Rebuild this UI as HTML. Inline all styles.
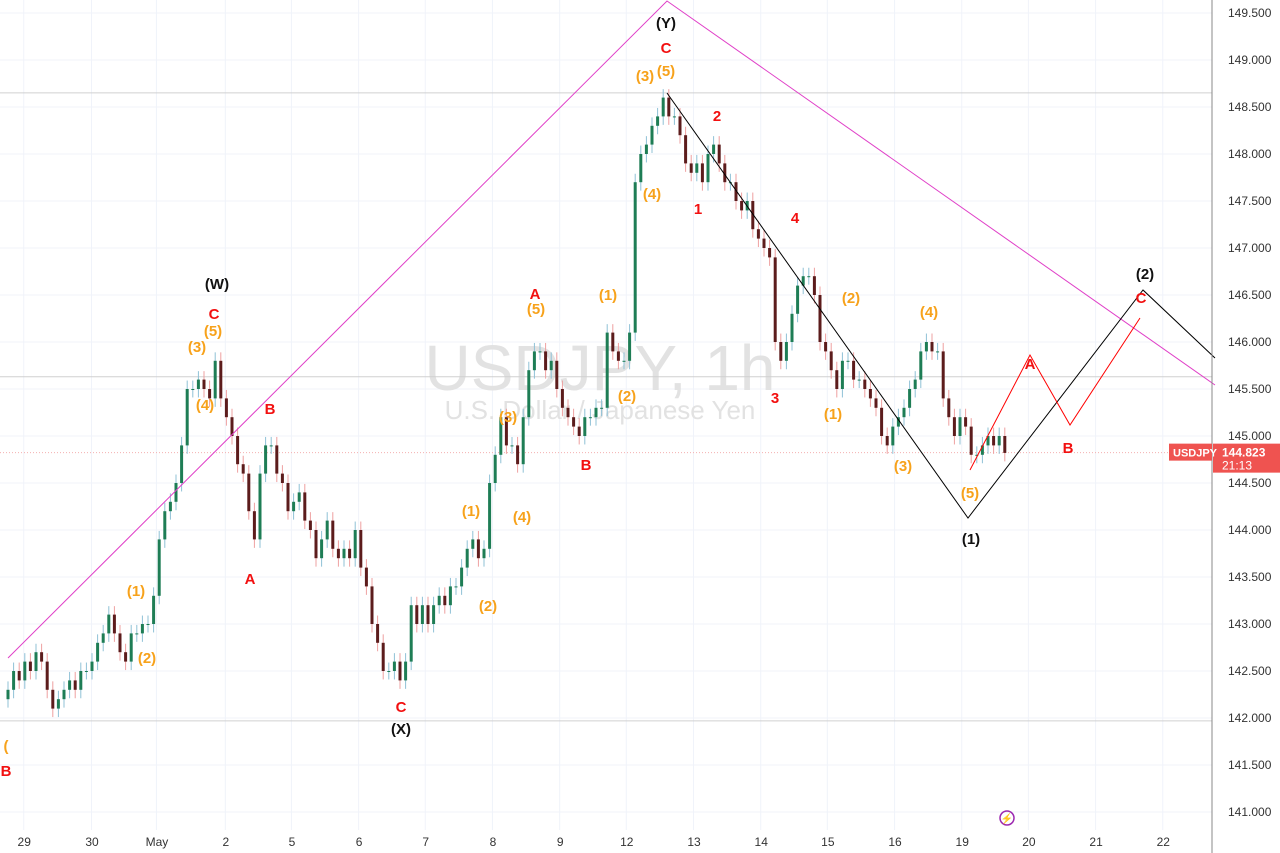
<!DOCTYPE html>
<html><head><meta charset="utf-8"><style>
body{margin:0;background:#fff;font-family:"Liberation Sans",sans-serif}
svg{display:block}
</style></head><body>
<svg id="chart" width="1280" height="853" xmlns="http://www.w3.org/2000/svg" font-family="Liberation Sans, sans-serif">
<rect width="1280" height="853" fill="#fff"/>
<g id="grid"></g>
<text x="600" y="390" text-anchor="middle" font-size="64" fill="#e2e2e2">USDJPY, 1h</text>
<text x="600" y="419" text-anchor="middle" font-size="26" fill="#e2e2e2">U.S. Dollar / Japanese Yen</text>
<g id="hlines"></g>
<g id="candles"></g>
<g id="draw"></g>
<g id="labels"></g>
<line x1="1212" y1="0" x2="1212" y2="853" stroke="#888" stroke-width="1"/>
<g id="yaxis"></g>
<g id="xaxis"></g>
<circle cx="1007" cy="818" r="7" fill="none" stroke="#9c27b0" stroke-width="1.5"/>
<text x="1007" y="822" text-anchor="middle" font-size="10" fill="#9c27b0">⚡</text>
</svg>
<script>
const closes=[142.3,142.5,142.4,142.6,142.5,142.7,142.6,142.3,142.1,142.2,142.3,142.4,142.3,142.5,142.5,142.6,142.8,142.9,143.1,142.9,142.7,142.6,142.9,142.9,143.0,143.0,143.3,143.9,144.2,144.3,144.5,144.9,145.5,145.5,145.6,145.5,145.4,145.8,145.4,145.2,145.0,144.7,144.6,144.2,143.9,144.6,144.9,144.9,144.6,144.5,144.2,144.3,144.4,144.1,144.0,143.7,143.9,144.1,143.8,143.7,143.8,143.7,144.0,143.6,143.4,143.0,142.8,142.5,142.5,142.6,142.4,142.6,143.2,143.0,143.2,143.0,143.2,143.3,143.2,143.4,143.4,143.6,143.8,143.9,143.7,143.8,144.5,144.8,145.2,144.9,144.9,144.7,145.2,145.7,145.9,145.9,145.7,145.8,145.5,145.3,145.2,145.1,145.0,145.2,145.2,145.3,145.3,146.1,145.9,145.8,145.8,146.1,147.7,148.0,148.1,148.3,148.4,148.6,148.4,148.4,148.2,147.9,147.8,147.9,147.7,148.0,148.1,147.9,147.7,147.7,147.5,147.4,147.5,147.2,147.1,147.0,146.9,146.0,145.8,146.0,146.3,146.6,146.7,146.7,146.5,146.0,145.9,145.7,145.5,145.8,145.8,145.6,145.6,145.5,145.4,145.3,145.0,144.9,145.1,145.2,145.3,145.5,145.6,145.9,146.0,145.9,145.9,145.4,145.2,145.0,145.2,145.1,144.8,144.8,144.9,145.0,144.9,145.0,144.82];
const firstOpen=142.2;
const yTicks=[149.5,149.0,148.5,148.0,147.5,147.0,146.5,146.0,145.5,145.0,144.5,144.0,143.5,143.0,142.5,142.0,141.5,141.0];
const dayLabels=["29","30","May","2","5","6","7","8","9","12","13","14","15","16","19","20","21","22"];
const dayIndex=[2.9,15,26.6,38.9,50.7,62.7,74.6,86.6,98.6,110.5,122.5,134.5,146.4,158.4,170.4,182.3,194.3,206.3];
const lastPrice=144.823;
const NS="http://www.w3.org/2000/svg";
const y=p=>13+(149.5-p)*94;
const x=i=>8+i*5.6;
function mk(t,a,parent){const e=document.createElementNS(NS,t);for(const k in a)e.setAttribute(k,a[k]);parent.appendChild(e);return e;}
const grid=document.getElementById('grid');
yTicks.forEach(p=>{const l=mk('line',{x1:0,x2:1212,y1:y(p),y2:y(p),stroke:'#f0f3fa'},grid);

});
dayIndex.forEach(i=>{const l=mk('line',{x1:x(i)-0.5,x2:x(i)-0.5,y1:0,y2:830,stroke:'#f0f3fa'},grid);

});
const hl=document.getElementById('hlines');
[148.65,145.63,141.97].forEach(p=>{const l=mk('line',{x1:0,x2:1212,y1:y(p),y2:y(p),stroke:'#d0d0d0'},hl);

});
const pl=mk('line',{x1:0,x2:1212,y1:y(lastPrice),y2:y(lastPrice),stroke:'#f4b0b0','stroke-dasharray':'1 2'},hl);


const cg=document.getElementById('candles');
closes.forEach((c,i)=>{const o=i?closes[i-1]:firstOpen;const up=c>=o;
const hi=Math.max(o,c)+0.09,lo=Math.min(o,c)-0.09;
const w=mk('line',{x1:x(i),x2:x(i),y1:y(hi),y2:y(lo),stroke:up?'#8fc1d6':'#eea0a0'},cg);


const top=y(Math.max(o,c)),h=Math.max(1,Math.abs(y(o)-y(c)));
const b=mk('rect',{x:x(i)-1.5,y:top,width:3,height:h,fill:up?'#1e7d55':'#5c1c1c'},cg);

});
const dr=document.getElementById('draw');
const pls=[["8,658 667,1 1215,385","#e040c8","wave-trendline"],["667,93 968,518 1143,290 1215,358","#000","projection-black"],["970,470 1030,355 1070,425 1140,318","#f00","projection-red"]];
pls.forEach(d=>{const p=mk('polyline',{points:d[0],fill:'none',stroke:d[1],'stroke-width':1},dr);

});
const O='#f7a21b',R='#f21010',K='#111';
const labs=[["(3)",197,352,O],["(5)",213,336,O],["(4)",205,410,O],["(1)",136,596,O],["(2)",147,663,O],["(1)",471,516,O],["(2)",488,611,O],["(4)",522,522,O],["(3)",508,422,O],["(5)",536,314,O],["(1)",608,300,O],["(2)",627,401,O],["(3)",645,81,O],["(5)",666,76,O],["(4)",652,199,O],["(2)",851,303,O],["(1)",833,419,O],["(4)",929,317,O],["(3)",903,471,O],["(5)",970,498,O],["(",6,751,O],
["C",214,319,R],["B",270,414,R],["A",250,584,R],["C",401,712,R],["A",535,299,R],["B",586,470,R],["C",666,53,R],["2",717,121,R],["1",698,214,R],["4",795,223,R],["3",775,403,R],["A",1030,369,R],["B",1068,453,R],["C",1141,303,R],["B",6,776,R],
["(W)",217,289,K],["(X)",401,734,K],["(Y)",666,28,K],["(1)",971,544,K],["(2)",1145,279,K]];
const lg=document.getElementById('labels');
labs.forEach(l=>{const t=mk('text',{x:l[1],y:l[2],'text-anchor':'middle','font-size':15,'font-weight':'bold',fill:l[3]},lg);t.textContent=l[0];

});
const ya=document.getElementById('yaxis');
yTicks.forEach(p=>{const t=mk('text',{x:1228,y:y(p)+4,'font-size':12,fill:'#333'},ya);t.textContent=p.toFixed(3);

});
const tag=mk('rect',{x:1213,y:y(lastPrice)-9,width:67,height:29,fill:'#ef5350'},ya);


const tt=mk('text',{x:1222,y:y(lastPrice)+4,'font-size':12,'font-weight':'bold',fill:'#fff'},ya);tt.textContent=lastPrice.toFixed(3);


const tc=mk('text',{x:1222,y:y(lastPrice)+17,'font-size':12,fill:'#fff'},ya);tc.textContent='21:13';


const st=mk('rect',{x:1169,y:y(lastPrice)-9,width:43,height:17,fill:'#ef5350'},ya);


const sx=mk('text',{x:1173,y:y(lastPrice)+4,'font-size':11,'font-weight':'bold',fill:'#fff'},ya);sx.textContent='USDJPY';


const xa=document.getElementById('xaxis');
dayLabels.forEach((d,k)=>{const t=mk('text',{x:x(dayIndex[k]),y:846,'text-anchor':'middle','font-size':12,fill:'#333'},xa);t.textContent=d;

});
</script>
</body></html>
